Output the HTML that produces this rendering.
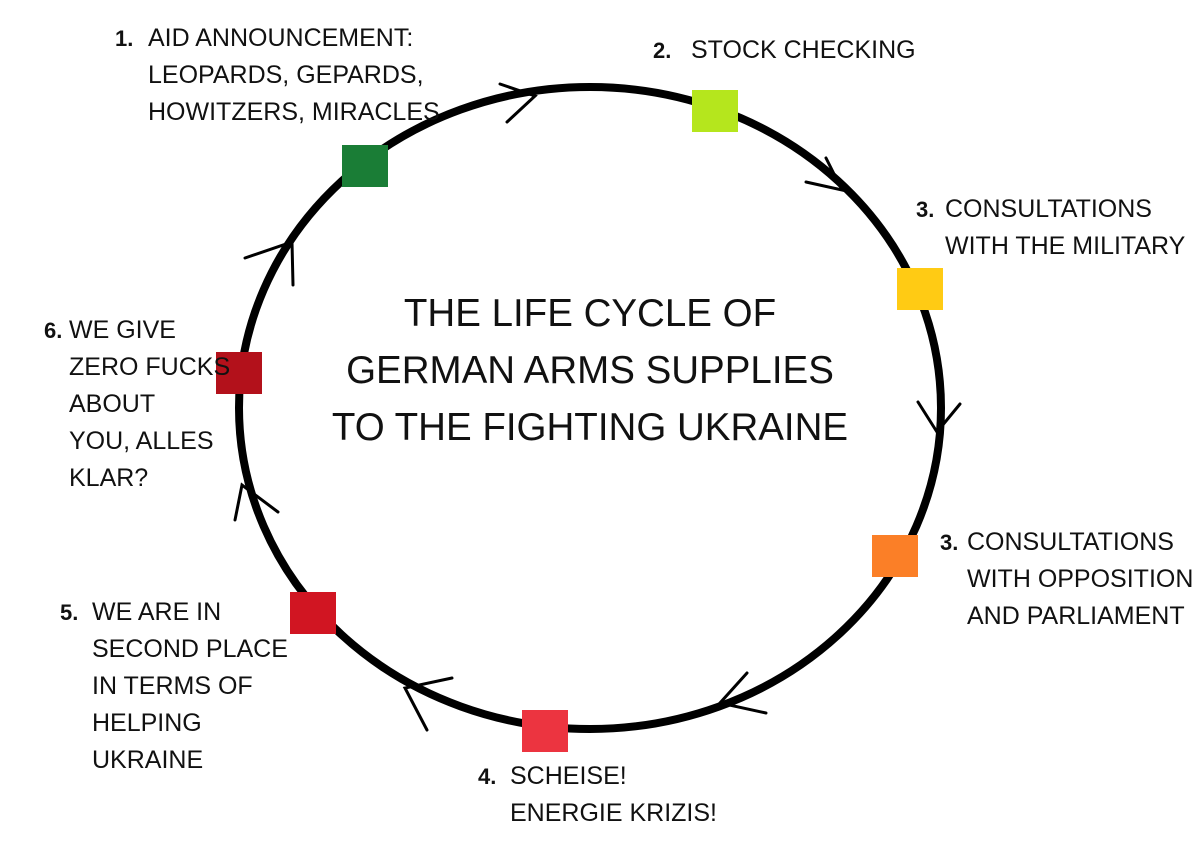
<!DOCTYPE html>
<html><head><meta charset="utf-8"><style>
html,body{margin:0;padding:0;background:#fff;}
body{width:1200px;height:860px;position:relative;overflow:hidden;font-family:"Liberation Sans",sans-serif;}
.t{position:absolute;font-size:25px;line-height:37px;color:#111;white-space:nowrap;}
.n{font-weight:bold;font-size:22px;}
.title{position:absolute;left:290px;top:285px;width:600px;text-align:center;font-size:38.5px;line-height:57px;color:#111;}
</style></head><body>
<svg width="1200" height="860" style="position:absolute;left:0;top:0">
<ellipse cx="590" cy="408" rx="351" ry="321" fill="none" stroke="#000" stroke-width="8"/>
<g fill="none" stroke="#000" stroke-width="3" stroke-linecap="round">
<polyline points="500,84 535,96 507,122"/>
<polyline points="826,158 842,190 806,182"/>
<polyline points="918,402 937,432 960,404"/>
<polyline points="747,673 720,703 766,713"/>
<polyline points="452,678 405,688 427,730"/>
<polyline points="235,520 242,485 278,512"/>
<polyline points="245,258 292,242 293,285"/>
</g>
<rect x="342" y="145" width="46" height="42" fill="#1a7d36"/>
<rect x="692" y="90" width="46" height="42" fill="#b5e61d"/>
<rect x="897" y="268" width="46" height="42" fill="#ffcb14"/>
<rect x="872" y="535" width="46" height="42" fill="#fb7f27"/>
<rect x="522" y="710" width="46" height="42" fill="#ec3440"/>
<rect x="290" y="592" width="46" height="42" fill="#d11522"/>
<rect x="216" y="352" width="46" height="42" fill="#b3111b"/>
</svg>
<div class="title">THE LIFE CYCLE OF<br>GERMAN ARMS SUPPLIES<br>TO THE FIGHTING UKRAINE</div>
<div class="t" style="left:115px;top:20px"><span class="n">1.</span></div>
<div class="t" style="left:148px;top:20px">AID ANNOUNCEMENT:<br>LEOPARDS, GEPARDS,<br>HOWITZERS, MIRACLES</div>
<div class="t" style="left:653px;top:32px"><span class="n">2.</span></div>
<div class="t" style="left:691px;top:32px">STOCK CHECKING</div>
<div class="t" style="left:916px;top:191px"><span class="n">3.</span></div>
<div class="t" style="left:945px;top:191px">CONSULTATIONS<br>WITH THE MILITARY</div>
<div class="t" style="left:940px;top:524px"><span class="n">3.</span></div>
<div class="t" style="left:967px;top:524px">CONSULTATIONS<br>WITH OPPOSITION<br>AND PARLIAMENT</div>
<div class="t" style="left:478px;top:758px"><span class="n">4.</span></div>
<div class="t" style="left:510px;top:758px">SCHEISE!<br>ENERGIE KRIZIS!</div>
<div class="t" style="left:60px;top:594px"><span class="n">5.</span></div>
<div class="t" style="left:92px;top:594px">WE ARE IN<br>SECOND PLACE<br>IN TERMS OF<br>HELPING<br>UKRAINE</div>
<div class="t" style="left:44px;top:312px"><span class="n">6.</span></div>
<div class="t" style="left:69px;top:312px">WE GIVE<br>ZERO FUCKS<br>ABOUT<br>YOU, ALLES<br>KLAR?</div>
</body></html>
